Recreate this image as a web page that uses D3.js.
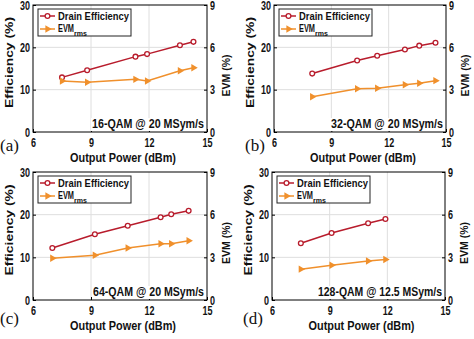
<!DOCTYPE html>
<html lang="en">
<head>
  <meta charset="utf-8">
  <title>PA efficiency and EVM vs output power</title>
  <script src="https://d3js.org/d3.v7.min.js"></script>
  <style>
    body { margin: 0; background: white; }
    text { font-family: "Liberation Sans", Arial, sans-serif; font-weight: bold; fill: #111; }
    .letter { font-family: "Liberation Serif", "Times New Roman", serif; font-weight: normal; }
  </style>
</head>
<body>
<svg id="chart" width="474" height="339"></svg>
<script>
  // measured points, one set per modulation
  var powerA = [7.5, 8.8, 11.3, 11.9, 13.6, 14.3],
      effA   = [12.9, 14.6, 17.8, 18.4, 20.5, 21.3],
      evmA   = [3.61, 3.52, 3.73, 3.61, 4.34, 4.56];

  var powerB = [8.0, 10.35, 11.4, 12.85, 13.6, 14.45],
      effB   = [13.8, 16.9, 18.0, 19.5, 20.4, 21.1],
      evmB   = [2.50, 3.07, 3.10, 3.35, 3.45, 3.64];

  var powerC = [7.0, 9.2, 10.9, 12.6, 13.15, 14.05],
      effC   = [12.2, 15.4, 17.4, 19.4, 20.1, 20.9],
      evmC   = [2.93, 3.14, 3.66, 3.96, 3.96, 4.17];

  var powerD = [7.5, 9.1, 11.0, 11.9],
      effD   = [13.3, 15.7, 18.0, 19.0],
      evmD   = [2.17, 2.45, 2.74, 2.85];

  var captions = ["16-QAM @ 20 MSym/s", "32-QAM @ 20 MSym/s", "64-QAM @ 20 MSym/s", "128-QAM @ 12.5 MSym/s"],
      letters  = ["(a)", "(b)", "(c)", "(d)"];

  var effTicks = [0, 10, 20, 30],
      evmTicks = [0, 3, 6, 9],
      powerTicks = [6, 9, 12, 15];

  var red = "#b81c2c", orange = "#f0902c", grid = "#dedede";

  var svg = d3.select("#chart");

  // plot boxes (left, right, top, bottom) and caption widths
  var boxes = [
    { x0: 33,  x1: 207, y0: 5,   y1: 132, capW: 112 },
    { x0: 274, x1: 446, y0: 5,   y1: 132, capW: 112 },
    { x0: 33,  x1: 207, y0: 172, y1: 300, capW: 111 },
    { x0: 272, x1: 445, y0: 172, y1: 300, capW: 124 }
  ];
  var sets = [
    [powerA, effA, evmA],
    [powerB, effB, evmB],
    [powerC, effC, evmC],
    [powerD, effD, evmD]
  ];

  // squeeze horizontal text a bit, the figure fonts are narrow
  function squeeze(sel, k) {
    sel.each(function() {
      var w = this.getComputedTextLength();
      d3.select(this).attr("textLength", w * k).attr("lengthAdjust", "spacingAndGlyphs");
    });
  }

  function triangle(g, x, y) {
    g.append("path")
      .attr("d", d3.symbol(d3.symbolTriangle, 24)())
      .attr("transform", "translate(" + x + "," + y + ") rotate(90)")
      .attr("fill", orange);
  }

  function circle(g, x, y) {
    g.append("circle")
      .attr("cx", x).attr("cy", y).attr("r", 2.4)
      .attr("fill", "white").attr("stroke", red).attr("stroke-width", 1.3);
  }

  boxes.forEach(function(b, i) {
    var power = sets[i][0], eff = sets[i][1], evm = sets[i][2];

    var x = d3.scaleLinear().domain([6, 15]).range([b.x0, b.x1]),
        yL = d3.scaleLinear().domain([0, 30]).range([b.y1, b.y0]),
        yR = d3.scaleLinear().domain([0, 9]).range([b.y1, b.y0]);

    var g = svg.append("g");

    // grid
    g.selectAll(".gx").data(powerTicks.slice(1, -1)).enter().append("line")
      .attr("x1", function(d) { return x(d); }).attr("x2", function(d) { return x(d); })
      .attr("y1", b.y0).attr("y2", b.y1)
      .attr("stroke", grid).attr("stroke-width", 1);
    g.selectAll(".gy").data(effTicks.slice(1, -1)).enter().append("line")
      .attr("y1", function(d) { return yL(d); }).attr("y2", function(d) { return yL(d); })
      .attr("x1", b.x0).attr("x2", b.x1)
      .attr("stroke", grid).attr("stroke-width", 1);

    // axes, ticks pointing inward
    var ax = g.append("g").attr("transform", "translate(0," + b.y1 + ")")
      .call(d3.axisBottom(x).tickValues(powerTicks).tickSizeInner(-3).tickSizeOuter(0).tickPadding(6));
    var al = g.append("g").attr("transform", "translate(" + b.x0 + ",0)")
      .call(d3.axisLeft(yL).tickValues(effTicks).tickSizeInner(-3).tickSizeOuter(0).tickPadding(3));
    var ar = g.append("g").attr("transform", "translate(" + b.x1 + ",0)")
      .call(d3.axisRight(yR).tickValues(evmTicks).tickSizeInner(-3).tickSizeOuter(0).tickPadding(3));

    [ax, al, ar].forEach(function(a) {
      a.select(".domain").remove();
      a.selectAll(".tick line").attr("stroke", "#000");
      a.selectAll(".tick text")
        .attr("font-size", 12.5).attr("font-family", null)
        .call(squeeze, 0.72);
    });

    g.append("rect")
      .attr("x", b.x0).attr("y", b.y0)
      .attr("width", b.x1 - b.x0).attr("height", b.y1 - b.y0)
      .attr("fill", "none").attr("stroke", "#000").attr("stroke-width", 1);

    // series
    var pts = power.map(function(p, j) { return { p: p, e: eff[j], v: evm[j] }; });

    g.append("path").datum(pts)
      .attr("fill", "none").attr("stroke", red).attr("stroke-width", 1.5)
      .attr("d", d3.line().x(function(d) { return x(d.p); }).y(function(d) { return yL(d.e); }));
    g.append("path").datum(pts)
      .attr("fill", "none").attr("stroke", orange).attr("stroke-width", 1.5)
      .attr("d", d3.line().x(function(d) { return x(d.p); }).y(function(d) { return yR(d.v); }));

    pts.forEach(function(d) {
      circle(g, x(d.p), yL(d.e));
      triangle(g, x(d.p), yR(d.v));
    });

    // legend
    var lx = b.x0 + 5, ly = b.y0 + 4;
    g.append("rect")
      .attr("x", lx).attr("y", ly).attr("width", 93).attr("height", 27)
      .attr("fill", "white").attr("stroke", "#222").attr("stroke-width", 1);
    g.append("line").attr("x1", lx + 2).attr("x2", lx + 17).attr("y1", ly + 7).attr("y2", ly + 7)
      .attr("stroke", red).attr("stroke-width", 1.5);
    circle(g, lx + 9.5, ly + 7);
    g.append("line").attr("x1", lx + 2).attr("x2", lx + 17).attr("y1", ly + 20).attr("y2", ly + 20)
      .attr("stroke", orange).attr("stroke-width", 1.5);
    triangle(g, lx + 9.5, ly + 20);

    g.append("text").attr("x", lx + 20).attr("y", ly + 11)
      .attr("font-size", 11).attr("textLength", 71).attr("lengthAdjust", "spacingAndGlyphs")
      .text("Drain Efficiency");
    var evmLbl = g.append("text").attr("x", lx + 20).attr("y", ly + 23).attr("font-size", 11);
    evmLbl.append("tspan").attr("textLength", 16).attr("lengthAdjust", "spacingAndGlyphs").text("EVM");
    evmLbl.append("tspan").attr("dy", 4).attr("font-size", 7).text("rms");

    // caption in the lower right corner
    var cap = g.append("text")
      .attr("x", b.x1 - 3).attr("y", b.y1 - 4)
      .attr("text-anchor", "end").attr("font-size", 12)
      .attr("textLength", b.capW).attr("lengthAdjust", "spacingAndGlyphs")
      .text(captions[i]);
    g.insert("rect", function() { return cap.node(); })
      .attr("x", b.x1 - 4 - b.capW).attr("y", b.y1 - 14)
      .attr("width", b.capW + 3).attr("height", 13)
      .attr("fill", "white");

    // axis titles
    g.append("text")
      .attr("x", (b.x0 + b.x1) / 2 + 3).attr("y", b.y1 + 30)
      .attr("text-anchor", "middle").attr("font-size", 13.5)
      .attr("textLength", 106).attr("lengthAdjust", "spacingAndGlyphs")
      .text("Output Power (dBm)");

    g.append("text")
      .attr("transform", "translate(" + (b.x0 - 23) + "," + ((b.y0 + b.y1) / 2 - 6) + ") rotate(-90) scale(1,0.75)")
      .attr("text-anchor", "middle").attr("dominant-baseline", "central")
      .attr("font-size", 13.5).attr("textLength", 91).attr("lengthAdjust", "spacingAndGlyphs")
      .text("Efficiency (%)");

    g.append("text")
      .attr("transform", "translate(" + (b.x1 + 20) + "," + ((b.y0 + b.y1) / 2 + 7) + ") rotate(-90) scale(1,0.75)")
      .attr("text-anchor", "middle").attr("dominant-baseline", "central")
      .attr("font-size", 13.5).attr("textLength", 42).attr("lengthAdjust", "spacingAndGlyphs")
      .text("EVM (%)");

    // panel letter
    g.append("text").attr("class", "letter")
      .attr("x", b.x0 - 33 + (i % 2 ? 4 : 0)).attr("y", b.y1 + (i < 2 ? 19 : 24))
      .attr("font-size", 17)
      .text(letters[i]);
  });
</script>
</body>
</html>
